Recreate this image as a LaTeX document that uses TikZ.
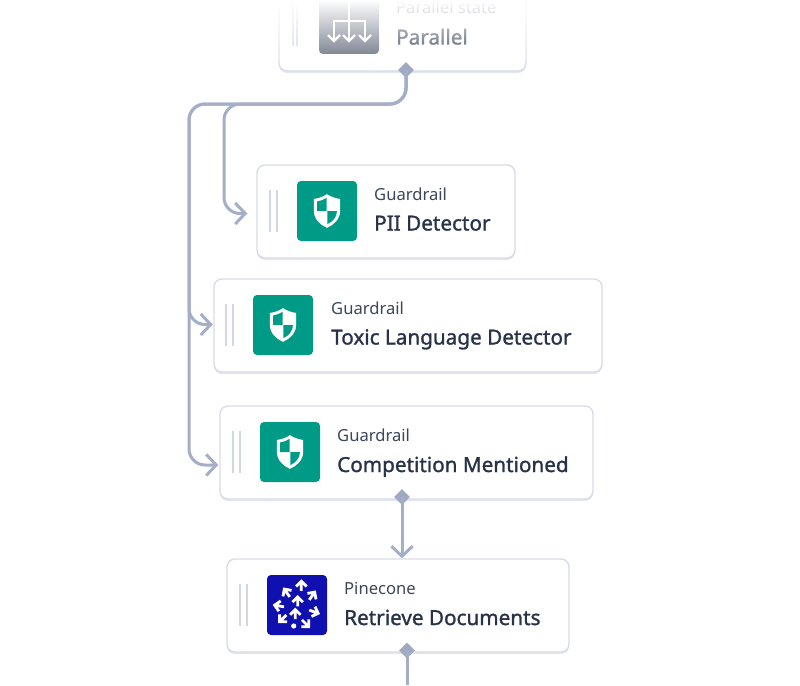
\documentclass[tikz,border=0pt]{standalone}
\usepackage{fontspec}
\setmainfont{Noto Sans}
\newfontfamily\ttlfont{Noto Sans}[FakeBold=1.3]
\usetikzlibrary{arrows.meta,fadings,shadows,calc,shapes.geometric}
\definecolor{cardline}{HTML}{D8DCE8}
\definecolor{conn}{HTML}{A4AEC7}
\definecolor{connd}{HTML}{9FA9C1}
\definecolor{handle}{HTML}{D3D7E3}
\definecolor{teal}{HTML}{009B86}
\definecolor{pine}{HTML}{1010B0}
\definecolor{inkA}{HTML}{3B4659}
\definecolor{inkB}{HTML}{28334A}
\definecolor{parbox}{HTML}{5C6376}
\tikzfading[name=topfade,top color=transparent!0,bottom color=transparent!100]
\tikzset{
  cardbox/.style={draw=cardline,fill=white,line width=1.4pt,rounded corners=8pt,inner sep=0pt,
    general shadow={fill=cardline!70,shadow yshift=-2pt}},
  iconbox/.style={rounded corners=4pt,minimum width=60pt,minimum height=60pt,inner sep=0pt},
  lab/.style={anchor=base west,inner sep=0pt,text=inkA,font=\fontsize{16.6}{18}\selectfont},
  ttl/.style={anchor=base west,inner sep=0pt,text=inkB,font=\ttlfont\fontsize{20.7}{22}\selectfont},
  grip/.style={draw=handle,line width=1.3pt},
  link/.style={draw=conn,line width=3pt,rounded corners=16pt},
  tip/.style={-{Straight Barb[length=10pt,width=21pt,line width=3pt]}},
  dia/.style={fill=connd,minimum width=0pt,inner sep=0pt,shape=diamond,minimum size=16pt},
  parr/.pic={\draw[white,line width=2.8pt] (0,5)--(0,-4.5) (-5.5,.5)--(0,-5)--(5.5,.5);},
  shield/.pic={
    \fill[white] (0,-16) .. controls (4,-13.5) and (8,-12) .. (12.5,-11.5) -- (12.5,0)
       .. controls (12.5,8) and (6,13.5) .. (0,16) .. controls (-6,13.5) and (-12.5,8) .. (-12.5,0) -- (-12.5,-11.5)
       .. controls (-8,-12) and (-4,-13.5) .. (0,-16) -- cycle;
    \fill[teal] (-.3,-12.5) .. controls (-3,-11) and (-6,-9.5) .. (-9.5,-9) -- (-9.5,0) -- (-.3,0) -- cycle;
    \fill[teal] (.3,0) -- (9.5,0) .. controls (9.5,6) and (5,10.5) .. (.3,12.5) -- cycle;
  }
}
\begin{document}
\begin{tikzpicture}[x=1pt,y=-1pt]
\useasboundingbox (0,0) rectangle (800,685);
\clip (0,0) rectangle (800,685);
% parallel card
\node[cardbox,minimum width=247pt,minimum height=101pt] (par) at (402.5,20.5) {};
\draw[grip] (293,5)--(293,46) (297,5)--(297,46);
\node[iconbox,fill=parbox] (paricon) at (349,24) {};
\draw[white,line width=2.3pt] (349,-5)--(349,42) (334,41)--(334,21)--(365,21)--(365,41);
\draw[white,line width=2.3pt] (328,35)--(334,41)--(340,35) (343,35)--(349,41)--(355,35) (359,35)--(365,41)--(371,35);
\node[lab] (parlab) at (396,14) {Parallel state};
\node[ttl] (parttl) at (396,44.5) {Parallel};
\fill[white,path fading=topfade] (270,0) rectangle (540,71);
% cards
\node[cardbox,minimum width=258pt,minimum height=93pt] (pii) at (386,211.5) {};
\draw[grip] (270,190)--(270,232) (277,190)--(277,232);
\node[iconbox,fill=teal] (piiicon) at (327,211) {};
\pic[scale=1.05] at (piiicon.center) {shield};
\node[lab] (piilab) at (374,200) {Guardrail};
\node[ttl] (piittl) at (374,230.5) {PII Detector};

\node[cardbox,minimum width=388pt,minimum height=93pt] (tox) at (408,325.5) {};
\draw[grip] (226,304)--(226,346) (233,304)--(233,346);
\node[iconbox,fill=teal] (toxicon) at (283,325) {};
\pic[scale=1.05] at (toxicon.center) {shield};
\node[lab] (toxlab) at (331,314) {Guardrail};
\node[ttl] (toxttl) at (331,344.5) {Toxic Language Detector};

\node[cardbox,minimum width=373pt,minimum height=93pt] (comp) at (406.5,452.5) {};
\draw[grip] (233,431)--(233,473) (240,431)--(240,473);
\node[iconbox,fill=teal] (compicon) at (290,452) {};
\pic[scale=1.05] at (compicon.center) {shield};
\node[lab] (complab) at (337,441) {Guardrail};
\node[ttl] (compttl) at (337,472) {Competition Mentioned};

\node[cardbox,minimum width=342pt,minimum height=93pt] (ret) at (398,605.5) {};
\draw[grip] (240,584)--(240,626) (247,584)--(247,626);
\node[iconbox,fill=pine] (reticon) at (297,605) {};
\foreach \dx/\dy/\r in {4.3/-19/0,-10/-12/35,15/-9/-35,.7/-3.3/0,-17.7/1/80,16.7/6.7/-110,-1.7/9.3/0,-14/13.3/135,8.3/18.3/-135}{
  \pic[scale=.95,rotate=\r] at ($(reticon.center)+(\dx,\dy)$) {parr};
}
\fill[white] ($(reticon.center)+(-3.3,21)$) circle (2.6pt);
\node[lab] (retlab) at (344,594) {Pinecone};
\node[ttl] (retttl) at (344,625) {Retrieve Documents};

% connectors
\node[dia] (d1) at (406,70) {};
\node[dia] (d2) at (402,497) {};
\node[dia] (d3) at (407,650.5) {};
\coordinate (busA) at (224,104);
\coordinate (busB) at (189,104);
\coordinate (tailend) at (407,685);
\draw[link,tip,shorten >=9pt] (d1.center) |- (busA) |- ([yshift=-2pt]pii.west);
\draw[link,tip,shorten >=.5pt] (d1.center) |- (busB) |- ([yshift=1pt]tox.west);
\draw[link,tip,shorten >=1pt] (d1.center) |- (busB) |- ([yshift=-12.5pt]comp.west);
\draw[link,tip,rounded corners=0pt] (d2.center) -- (d2.center |- ret.north);
\draw[link,rounded corners=0pt] (d3.center) -- (tailend);
\end{tikzpicture}
\end{document}
